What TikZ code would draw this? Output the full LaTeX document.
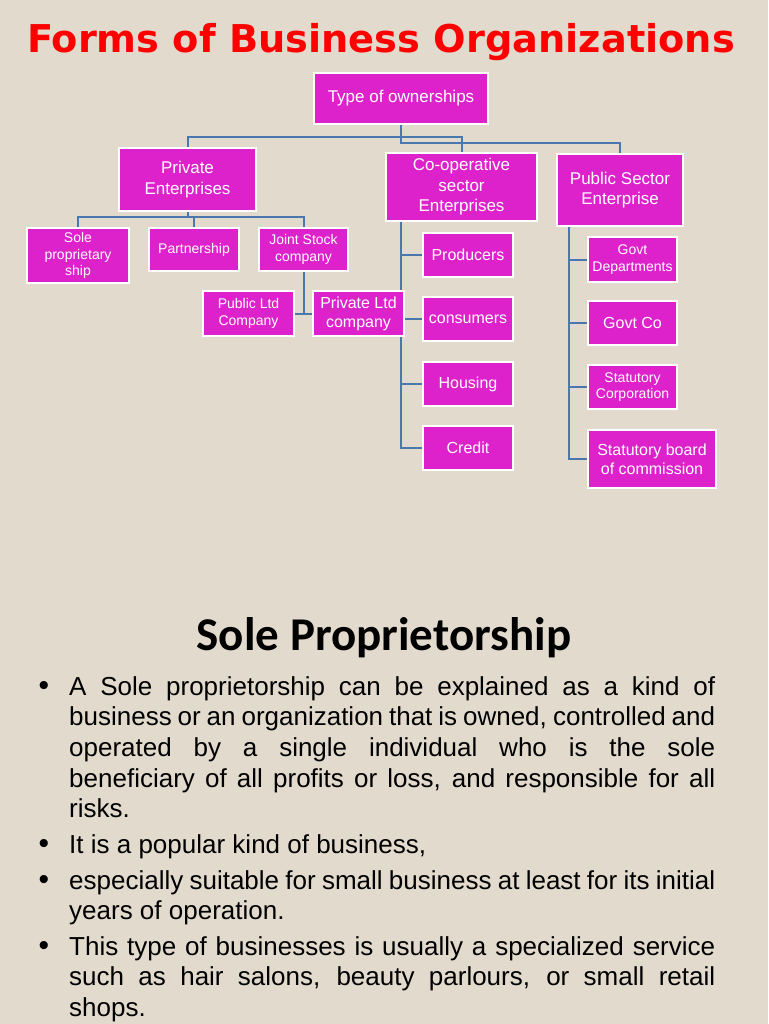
\documentclass[tikz,border=0pt]{standalone}
\usepackage{fontspec}
\setmainfont{Liberation Sans}
\newfontfamily\titlefont{DejaVu Sans}
\newfontfamily\carl{Carlito}
\usetikzlibrary{backgrounds}
\definecolor{bg}{HTML}{E2DACD}
\definecolor{mag}{HTML}{DD22CC}
\definecolor{ln}{HTML}{4A78AE}
\hyphenpenalty=10000
\exhyphenpenalty=10000
\begin{document}
\begin{tikzpicture}[x=1pt,y=-1pt,
  bx/.style={draw=white,line width=1.5pt,fill=mag,text=white,align=center,inner sep=1pt,font=\fontsize{#1pt}{1.2\dimexpr#1pt\relax}\selectfont},
  bx/.default=14,
  cn/.style={draw=ln,line width=2pt},
  para/.style={anchor=north west,text width=646pt,align=justify,font=\fontsize{26}{30.7}\selectfont,inner sep=0pt}]
\useasboundingbox (0,0) rectangle (768,1024);
\node[text=red,font=\titlefont\bfseries\fontsize{38.3}{38}\selectfont] (title) at (381,42) {Forms of Business Organizations};
\node[bx=17,minimum width=174pt,minimum height=51pt] (root) at (401,98.5) {Type of ownerships};
\node[bx=17,minimum width=137pt,minimum height=63pt] (pe) at (187.5,179.5) {Private\\Enterprises};
\node[bx=17,minimum width=151pt,minimum height=68pt] (co) at (461.5,187) {Co-operative\\sector\\Enterprises};
\node[bx=17,minimum width=126pt,minimum height=72pt] (ps) at (620,190) {Public Sector\\Enterprise};
\node[bx=14,minimum width=102pt,minimum height=55pt] (sole) at (78,255.5) {Sole\\proprietary\\ship};
\node[bx=14,minimum width=90pt,minimum height=43pt] (part) at (194,249.5) {Partnership};
\node[bx=14,minimum width=89pt,minimum height=43pt] (js) at (303.5,249.5) {Joint Stock\\company};
\node[bx=14,minimum width=91pt,minimum height=45pt] (pub) at (248.5,313.5) {Public Ltd\\Company};
\node[bx=16,minimum width=91pt,minimum height=45pt] (priv) at (358.5,313.5) {Private Ltd\\company};
\node[bx=16,minimum width=90pt,minimum height=44pt] (prod) at (468,255) {Producers};
\node[bx=16,minimum width=90pt,minimum height=44pt] (cons) at (468,319) {consumers};
\node[bx=16,minimum width=90pt,minimum height=44pt] (hous) at (468,384) {Housing};
\node[bx=16,minimum width=90pt,minimum height=44pt] (cred) at (468,448) {Credit};
\node[bx=14,minimum width=89pt,minimum height=45pt] (gd) at (632.5,259.5) {Govt\\Departments};
\node[bx=16,minimum width=89pt,minimum height=44pt] (gc) at (632.5,323) {Govt Co};
\node[bx=14,minimum width=89pt,minimum height=44pt] (sc) at (632.5,387) {Statutory\\Corporation};
\node[bx=16,minimum width=128pt,minimum height=58pt] (sb) at (652,459) {Statutory board\\of commission};
\begin{scope}[on background layer]
\fill[bg] (0,0) rectangle (768,1024);
\draw[cn] (root.south) -- (401,137) -| (pe.north);
\draw[cn] (401,137) -| (co.north);
\draw[cn] (root.south) -- (401,143) -| (ps.north);
\draw[cn] (pe.south) -- (187.5,217) -| (sole.north);
\draw[cn] (187.5,217) -| (js.north);
\draw[cn] (part.north) -- (194,217);
\draw[cn] (js.south) |- (pub.east);
\draw[cn] (303.5,313.5) -- (priv.west);
\draw[cn] (401,221) |- (cred.west);
\draw[cn] (401,255) -- (prod.west);
\draw[cn] (401,319) -- (cons.west);
\draw[cn] (401,384) -- (hous.west);
\draw[cn] (569,226) |- (sb.west);
\draw[cn] (569,259.5) -- (gd.west);
\draw[cn] (569,323) -- (gc.west);
\draw[cn] (569,387) -- (sc.west);
\end{scope}
\node[font=\carl\bfseries\fontsize{47}{47}\selectfont] (h) at (384,638) {Sole Proprietorship};
\node[para] (p1) at (69,676) {A Sole proprietorship can be explained as a kind of\linebreak business or an organization that is owned, controlled and\linebreak operated by a single individual who is the sole\linebreak beneficiary of all profits or loss, and responsible for all\linebreak risks.};
\node[para] (p2) at (69,834) {It is a popular kind of business,};
\node[para] (p3) at (69,870) {especially suitable for small business at least for its initial years of operation.};
\node[para] (p4) at (69,936) {This type of businesses is usually a specialized service such as hair salons, beauty parlours, or small retail shops.};
\foreach \n in {p1,p2,p3,p4}
  \node[inner sep=0pt,font=\fontsize{30}{30}\selectfont] at ([xshift=-25pt,yshift=-12pt]\n.north west) {\textbullet};
\end{tikzpicture}
\end{document}
